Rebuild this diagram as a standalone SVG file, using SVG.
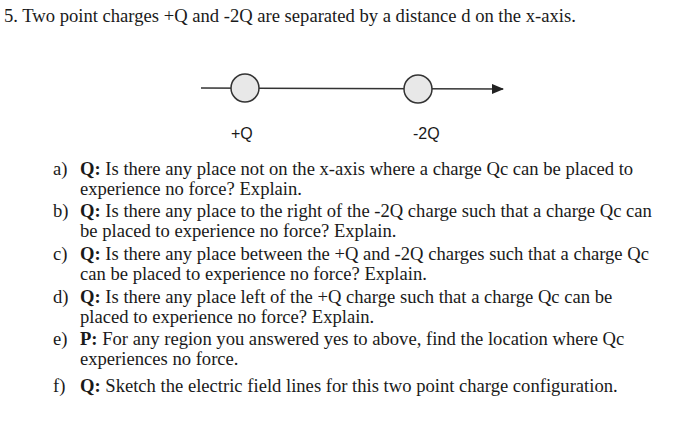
<svg xmlns="http://www.w3.org/2000/svg" width="678" height="425" viewBox="0 0 678 425">
<style>
text{font-family:"Liberation Serif",serif;font-size:18.6px;fill:#1a1a1a}
.s{font-family:"Liberation Sans",sans-serif;font-size:16px}
.b{font-weight:bold}
.c{fill:#e8e8e8;stroke:#333;stroke-width:1.5}
</style>
<defs><marker id="ah" markerWidth="12" markerHeight="10" refX="11" refY="5" orient="auto" markerUnits="userSpaceOnUse"><path d="M0,0L12,5L0,10z" fill="#222"/></marker></defs>
<rect width="678" height="425" fill="#fff"/>
<text x="4" y="22">5.  Two point charges +Q and -2Q are separated by a distance d on the x-axis.</text>
<g id="connectors"><line x1="201" y1="88" x2="503" y2="89" stroke="#333" stroke-width="1.5" marker-end="url(#ah)"/></g>
<g id="q1"><circle class="c" cx="245" cy="88" r="14"/><text class="s" x="231" y="139">+Q</text></g>
<g id="q2"><circle class="c" cx="418" cy="89" r="14"/><text class="s" x="413" y="139">-2Q</text></g>
<g id="questions">
<text x="53" y="175">a)</text><text x="80" y="175"><tspan class="b">Q:</tspan> Is there any place not on the x-axis where a charge Qc can be placed to</text>
<text x="80" y="195">experience no force? Explain.</text>
<text x="53" y="217">b)</text><text x="80" y="217"><tspan class="b">Q:</tspan> Is there any place to the right of the -2Q charge such that a charge Qc can</text>
<text x="80" y="237">be placed to experience no force? Explain.</text>
<text x="53" y="260">c)</text><text x="80" y="260"><tspan class="b">Q:</tspan> Is there any place between the +Q and -2Q charges such that a charge Qc</text>
<text x="80" y="280">can be placed to experience no force? Explain.</text>
<text x="53" y="303">d)</text><text x="80" y="303"><tspan class="b">Q:</tspan> Is there any place left of the +Q charge such that a charge Qc can be</text>
<text x="80" y="323">placed to experience no force? Explain.</text>
<text x="53" y="345">e)</text><text x="80" y="345"><tspan class="b">P:</tspan> For any region you answered yes to above, find the location where Qc</text>
<text x="80" y="365">experiences no force.</text>
<text x="53" y="392">f)</text><text x="80" y="392"><tspan class="b">Q:</tspan> Sketch the electric field lines for this two point charge configuration.</text>
</g>
</svg>
